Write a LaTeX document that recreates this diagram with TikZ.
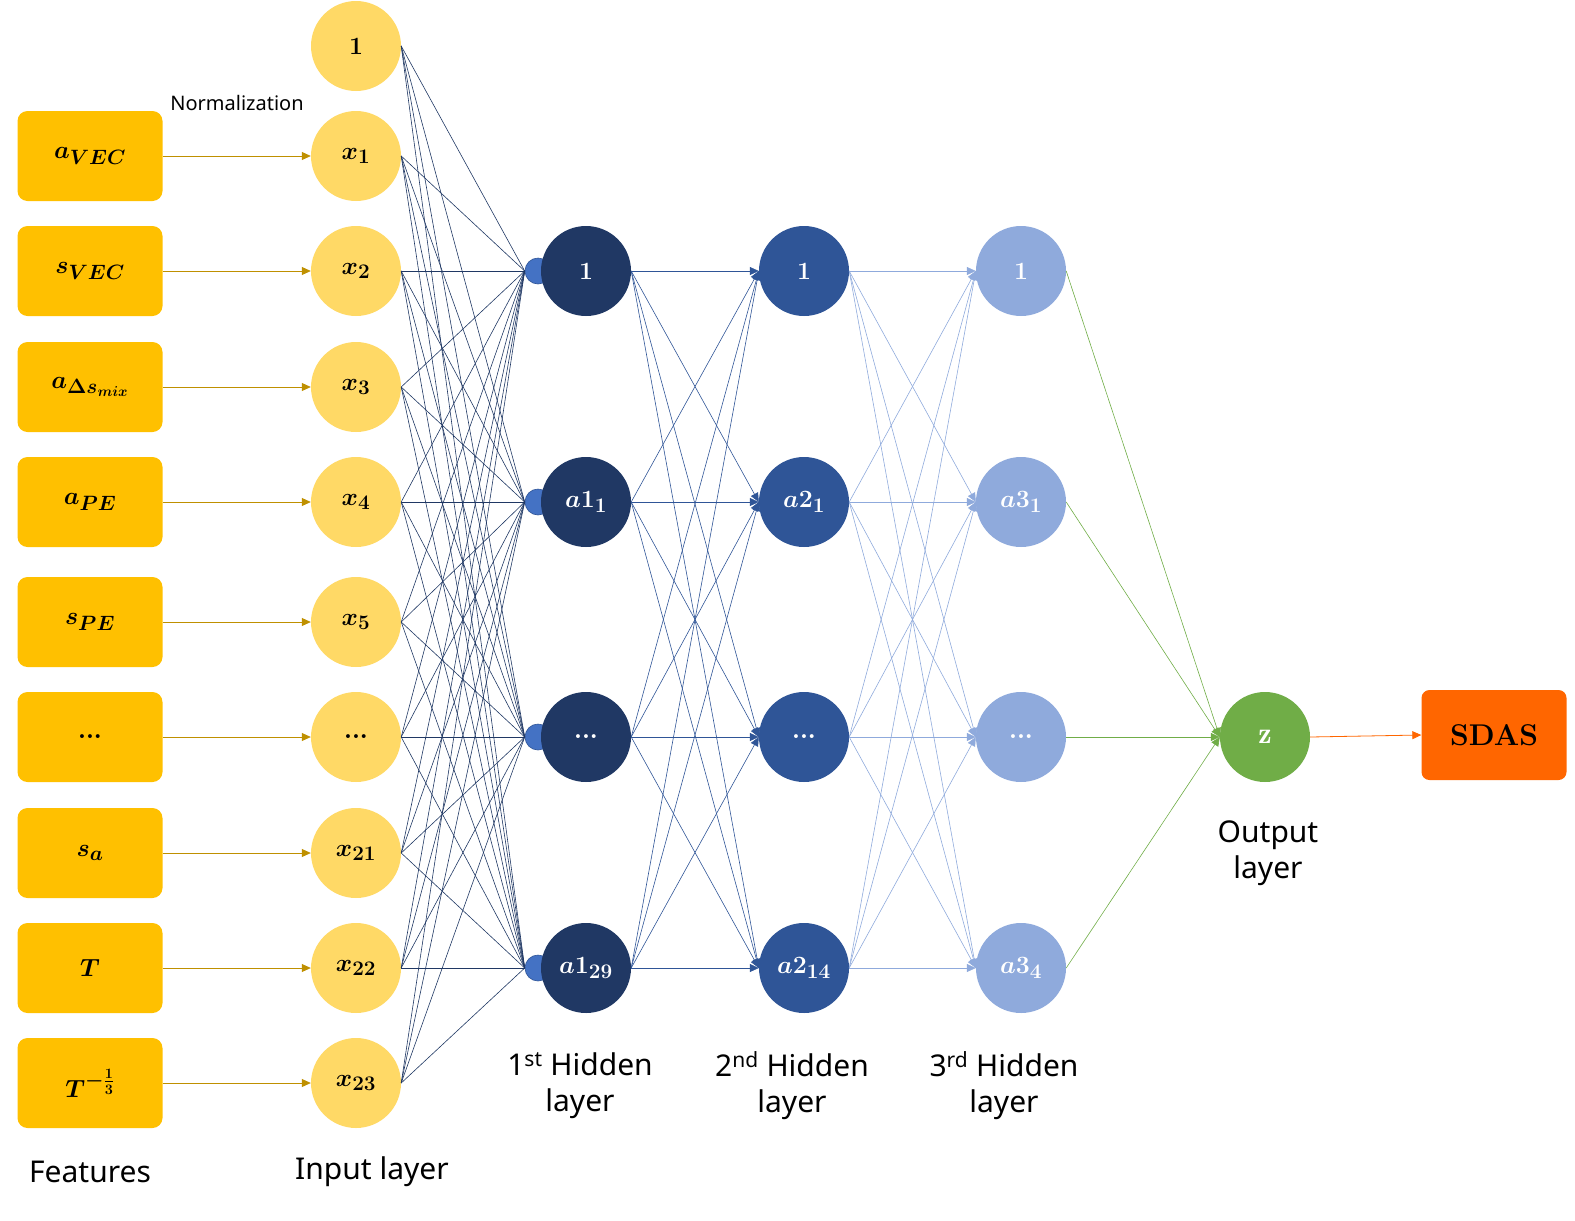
\documentclass[tikz,border=0pt]{standalone}
\usepackage{fontspec}
\usepackage{amsmath,bm}
\newfontfamily\sansf{Noto Sans}
\usetikzlibrary{arrows.meta}
\definecolor{feat}{HTML}{FFC000}
\definecolor{inp}{HTML}{FFD966}
\definecolor{hA}{HTML}{203864}
\definecolor{hB}{HTML}{2F5597}
\definecolor{hC}{HTML}{8FAADC}
\definecolor{sm}{HTML}{4472C4}
\definecolor{outc}{HTML}{70AD47}
\definecolor{sdas}{HTML}{FF6600}
\definecolor{farr}{HTML}{BF9000}
\begin{document}
\begin{tikzpicture}[x=1pt,y=-1pt,
  neuron/.style={circle,minimum size=90pt,inner sep=0pt,draw=none,font=\fontsize{30}{30}\selectfont},
  feature/.style={rectangle,rounded corners=10pt,fill=feat,minimum width=145pt,minimum height=90pt,font=\fontsize{30}{30}\selectfont},
  lab/.style={font=\sansf\fontsize{30}{36}\selectfont,align=center},
  farrow/.style={draw=farr,-{Triangle[length=9pt,width=8pt]},line width=0.8pt},
  l1/.style={draw=hA,line width=0.6pt},
  l2/.style={draw=hB,line width=0.6pt,-{Triangle[length=9pt,width=8pt]}},
  l3/.style={draw=hC,line width=0.6pt,-{Triangle[length=9pt,width=8pt]}},
  l4/.style={draw=outc,line width=0.6pt,-{Triangle[length=9pt,width=8pt]}}]
\useasboundingbox (0,0) rectangle (1575,1221);
% input layer
\foreach \n/\y/\txt in {0/46/1, 1/156/x_1, 2/271/x_2, 3/387/x_3, 4/502/x_4, 5/622/x_5, 6/737/{...}, 7/853/x_{21}, 8/968/x_{22}, 9/1083/x_{23}}
  \node[neuron,fill=inp] (i\n) at (356,\y) {$\bm{\txt}$};
% features
\foreach \n/\y/\txt in {1/156/a_{VEC}, 2/271/s_{VEC}, 3/387/a_{\Delta s_{mix}}, 4/502/a_{PE}, 5/622/s_{PE}, 6/737/{...}, 7/853/s_a, 8/968/T, 9/1083/T^{-\frac{1}{3}}}
  {\node[feature] (f\n) at (90,\y) {$\bm{\txt}$};
   \draw[farrow] (f\n.east) -- (i\n.west);}
% hidden layers
\foreach \n/\y/\txt in {1/271/1, 2/502/a1_1, 3/737/{...}, 4/968/a1_{29}}
  {\node[circle,minimum size=26pt,inner sep=0pt,fill=sm,draw=hB,line width=0.6pt] (s\n) at (538,\y) {};
   \node[neuron,fill=hA,text=white] (a\n) at (586,\y) {$\bm{\txt}$};}
\foreach \n/\y/\txt in {1/271/1, 2/502/a2_1, 3/737/{...}, 4/968/a2_{14}}
  \node[neuron,fill=hB,text=white] (b\n) at (804,\y) {$\bm{\txt}$};
\foreach \n/\y/\txt in {1/271/1, 2/502/a3_1, 3/737/{...}, 4/968/a3_4}
  \node[neuron,fill=hC,text=white] (c\n) at (1021,\y) {$\bm{\txt}$};
\node[neuron,fill=outc,text=white] (z) at (1265,737) {$\mathbf{z}$};
\node[rectangle,rounded corners=8pt,fill=sdas,minimum width=145pt,minimum height=90pt,font=\fontsize{30}{30}\selectfont\bfseries] (sd) at (1494,735) {SDAS};
% connections
\foreach \i in {0,...,9}\foreach \j in {1,...,4}
  \draw[l1] (i\i.east) -- (s\j.west);
\foreach \i in {1,...,4}\foreach \j in {1,...,4}
  {\draw[l2] (a\i.east) -- (b\j.west);
   \draw[l3] (b\i.east) -- (c\j.west);}
\foreach \i in {1,...,4} \draw[l4] (c\i.east) -- (z.west);
\draw[draw=sdas,line width=0.8pt,-{Triangle[length=9pt,width=8pt]}] (z.east) -- (sd.west);
% labels
\node[font=\sansf\fontsize{20}{24}\selectfont] (nl) at (237,103) {Normalization};
\node[lab] (lf) at (90,1172) {Features};
\node[lab] (li) at (372,1172) {Input layer};
\node[lab] (lh1) at (580,1086) {1\textsuperscript{st} Hidden\\layer};
\node[lab] (lh2) at (792,1086) {2\textsuperscript{nd} Hidden\\layer};
\node[lab] (lh3) at (1004,1086) {3\textsuperscript{rd} Hidden\\layer};
\node[lab] (lo) at (1268,853) {Output\\layer};
\end{tikzpicture}
\end{document}
